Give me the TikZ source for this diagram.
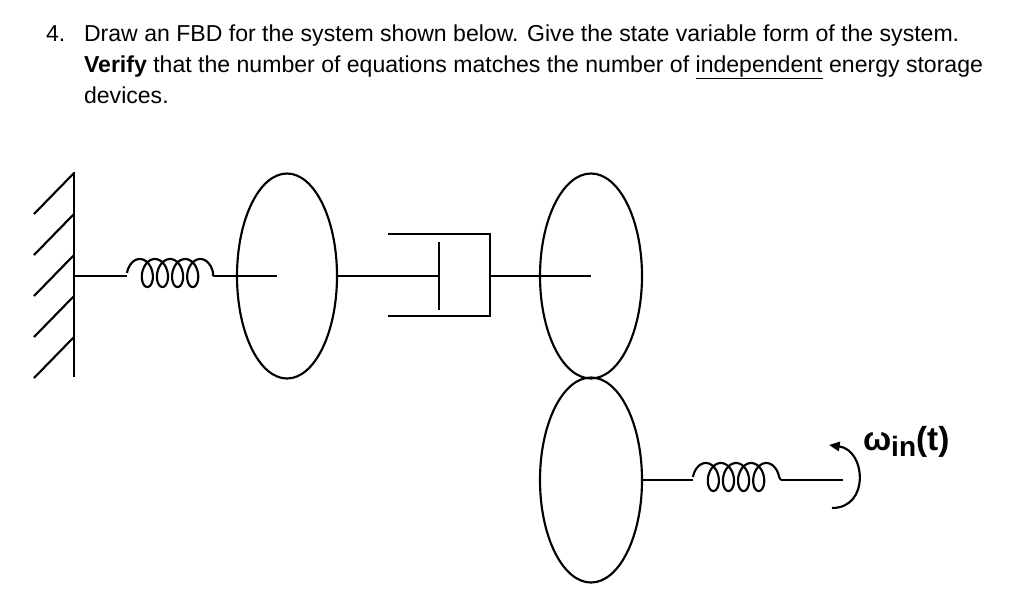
\documentclass[tikz,border=0pt]{standalone}
\usepackage{fontspec}
\setmainfont{Liberation Sans}
\usetikzlibrary{arrows.meta,shapes.geometric}
\begin{document}
\begin{tikzpicture}[x=0.75pt,y=-0.75pt,line width=1.6pt,
  txt/.style={anchor=base west,inner sep=0pt,font=\fontsize{17.3}{20}\selectfont},
  inert/.style={draw,ellipse,minimum width=102*0.75pt,minimum height=205*0.75pt,inner sep=0pt}]
\useasboundingbox (0,0) rectangle (1024,601);
% text
\node[txt] (n4) at (45,41) {4.};
\node[txt] (l1) at (83,41) {Draw an FBD for the system shown below. Give the state variable form of the system.};
\node[txt] (l2) at (83,72) {\textbf{Verify} that the number of equations matches the number of \underline{independent} energy storage};
\node[txt] (l3) at (83,103) {devices.};
% wall
\coordinate (wt) at (74,172); \coordinate (wb) at (74,377);
\draw (wt) -- (wb);
\foreach \y in {173,214,255,296,337} \draw (74,\y) -- (34,\y+41);
% spring 1
\coordinate (s1a) at (74,276); \coordinate (s1b) at (127,276);
\draw (s1a) -- (s1b);
\draw plot[smooth,domain=0:1620,samples=200] ({136+0.042*\x-9*cos(\x)},{273-14*sin(\x)}) -- (213,276);
\draw (213,276) -- (277,276);
% inertia 1
\node[inert,minimum width=100*0.75pt] (J1) at (287,276) {};
\draw (J1.east) -- (439,276);
% damper
\coordinate (pt) at (439,242); \coordinate (pb) at (439,310);
\draw (pt) -- (pb);
\draw (388,234) -- (490,234) -- (490,316) -- (388,316);
% inertia 2
\node[inert] (J2) at (591,276) {};
\draw (490,276) -- (J2.center);
% inertia 3
\node[inert] (J3) at (591,480) {};
\draw (J3.east) -- (693,480);
\draw plot[smooth,domain=0:1620,samples=200] ({702+0.042*\x-9*cos(\x)},{477-14*sin(\x)}) -- (781,480);
\draw (781,480) -- (843,480);
\coordinate (ab) at (832,508);
\coordinate (at) at (829,445);
\draw[-{Triangle[length=8pt,width=7pt]}] (ab) .. controls (870,508) and (866,450) .. (at);
\node[anchor=base west,inner sep=0pt,font=\fontsize{25}{28}\selectfont\bfseries] (w) at (862,450) {ω\raisebox{-0.35ex}{\fontsize{21}{22}\selectfont in}(t)};
\end{tikzpicture}
\end{document}
